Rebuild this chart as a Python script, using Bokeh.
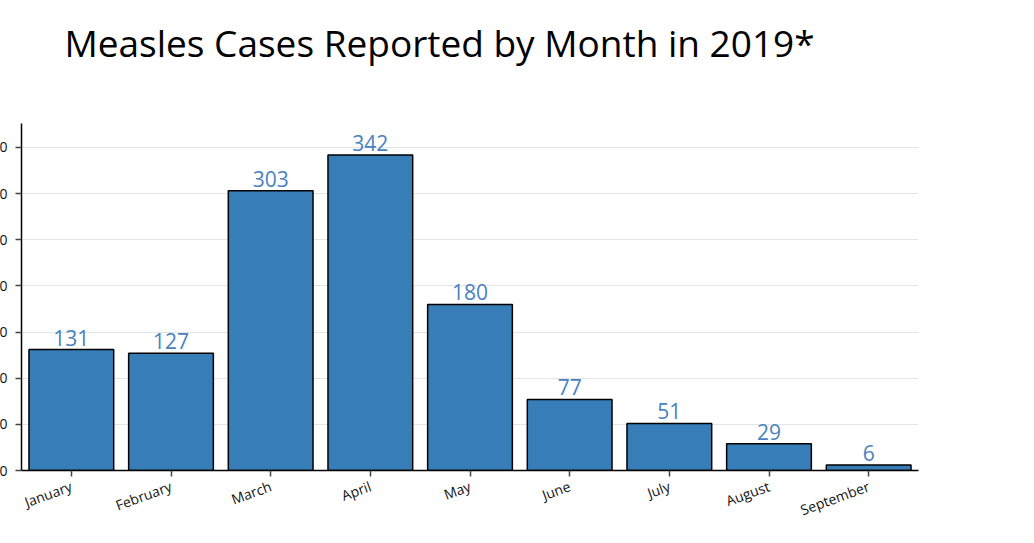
from bokeh.plotting import figure
from bokeh.models import ColumnDataSource, FactorRange, Range1d, FixedTicker
from bokeh.core.properties import value
from bokeh.embed import file_html
from bokeh.resources import INLINE

months = ["January", "February", "March", "April", "May",
          "June", "July", "August", "September"]
cases = [131, 127, 303, 342, 180, 77, 51, 29, 6]
y_ticks = [0, 50, 100, 150, 200, 250, 300, 350]
y_max = 376

source = ColumnDataSource(data=dict(month=months, cases=cases,
                                    label=[str(c) for c in cases]))

p = figure(x_range=FactorRange(factors=months, range_padding=0),
           y_range=Range1d(0, y_max),
           frame_width=897, frame_height=347,
           min_border_left=40, min_border_right=60,
           min_border_top=165, min_border_bottom=60,
           title="Measles Cases Reported by Month in 2019*",
           output_backend="svg", toolbar_location=None)

# chart is shifted left/up in the original, y labels are cut off
p.styles = {"margin-left": "-20px", "margin-top": "-42px"}

p.title.text_font = "Open Sans"
p.title.text_font_size = "37px"
p.title.text_font_style = "normal"
p.title.text_color = "#000000"
p.title.offset = 43
p.title.standoff = 112

p.vbar(x="month", top="cases", width=0.85, source=source,
       fill_color="#377eb8", line_color="#000000", line_width=1.5)

p.text(x="month", y="cases", text="label", source=source,
       text_align="center", text_baseline="bottom", y_offset=-4,
       text_color="#4a82c0", text_font_size="21px",
       text_font=value("Open Sans"))

p.outline_line_color = None
p.xgrid.grid_line_color = None
p.ygrid.grid_line_color = "#e5e5e5"
p.ygrid.grid_line_width = 1

p.yaxis.ticker = FixedTicker(ticks=y_ticks)
for ax in (p.xaxis, p.yaxis):
    ax.axis_line_color = "#000000"
    ax.axis_line_width = 1.5
    ax.major_tick_line_color = "#444444"
    ax.major_tick_line_width = 1.5
    ax.major_tick_out = 6
    ax.major_tick_in = 0
    ax.minor_tick_line_color = None
    ax.major_label_text_font = "Open Sans"
    ax.major_label_text_font_size = "14px"
    ax.major_label_text_color = "#111111"
p.yaxis.major_label_standoff = 8
p.xaxis.major_label_orientation = 0.35
p.xaxis.major_label_standoff = 9

open("out.html", "w").write(file_html(p, INLINE))
